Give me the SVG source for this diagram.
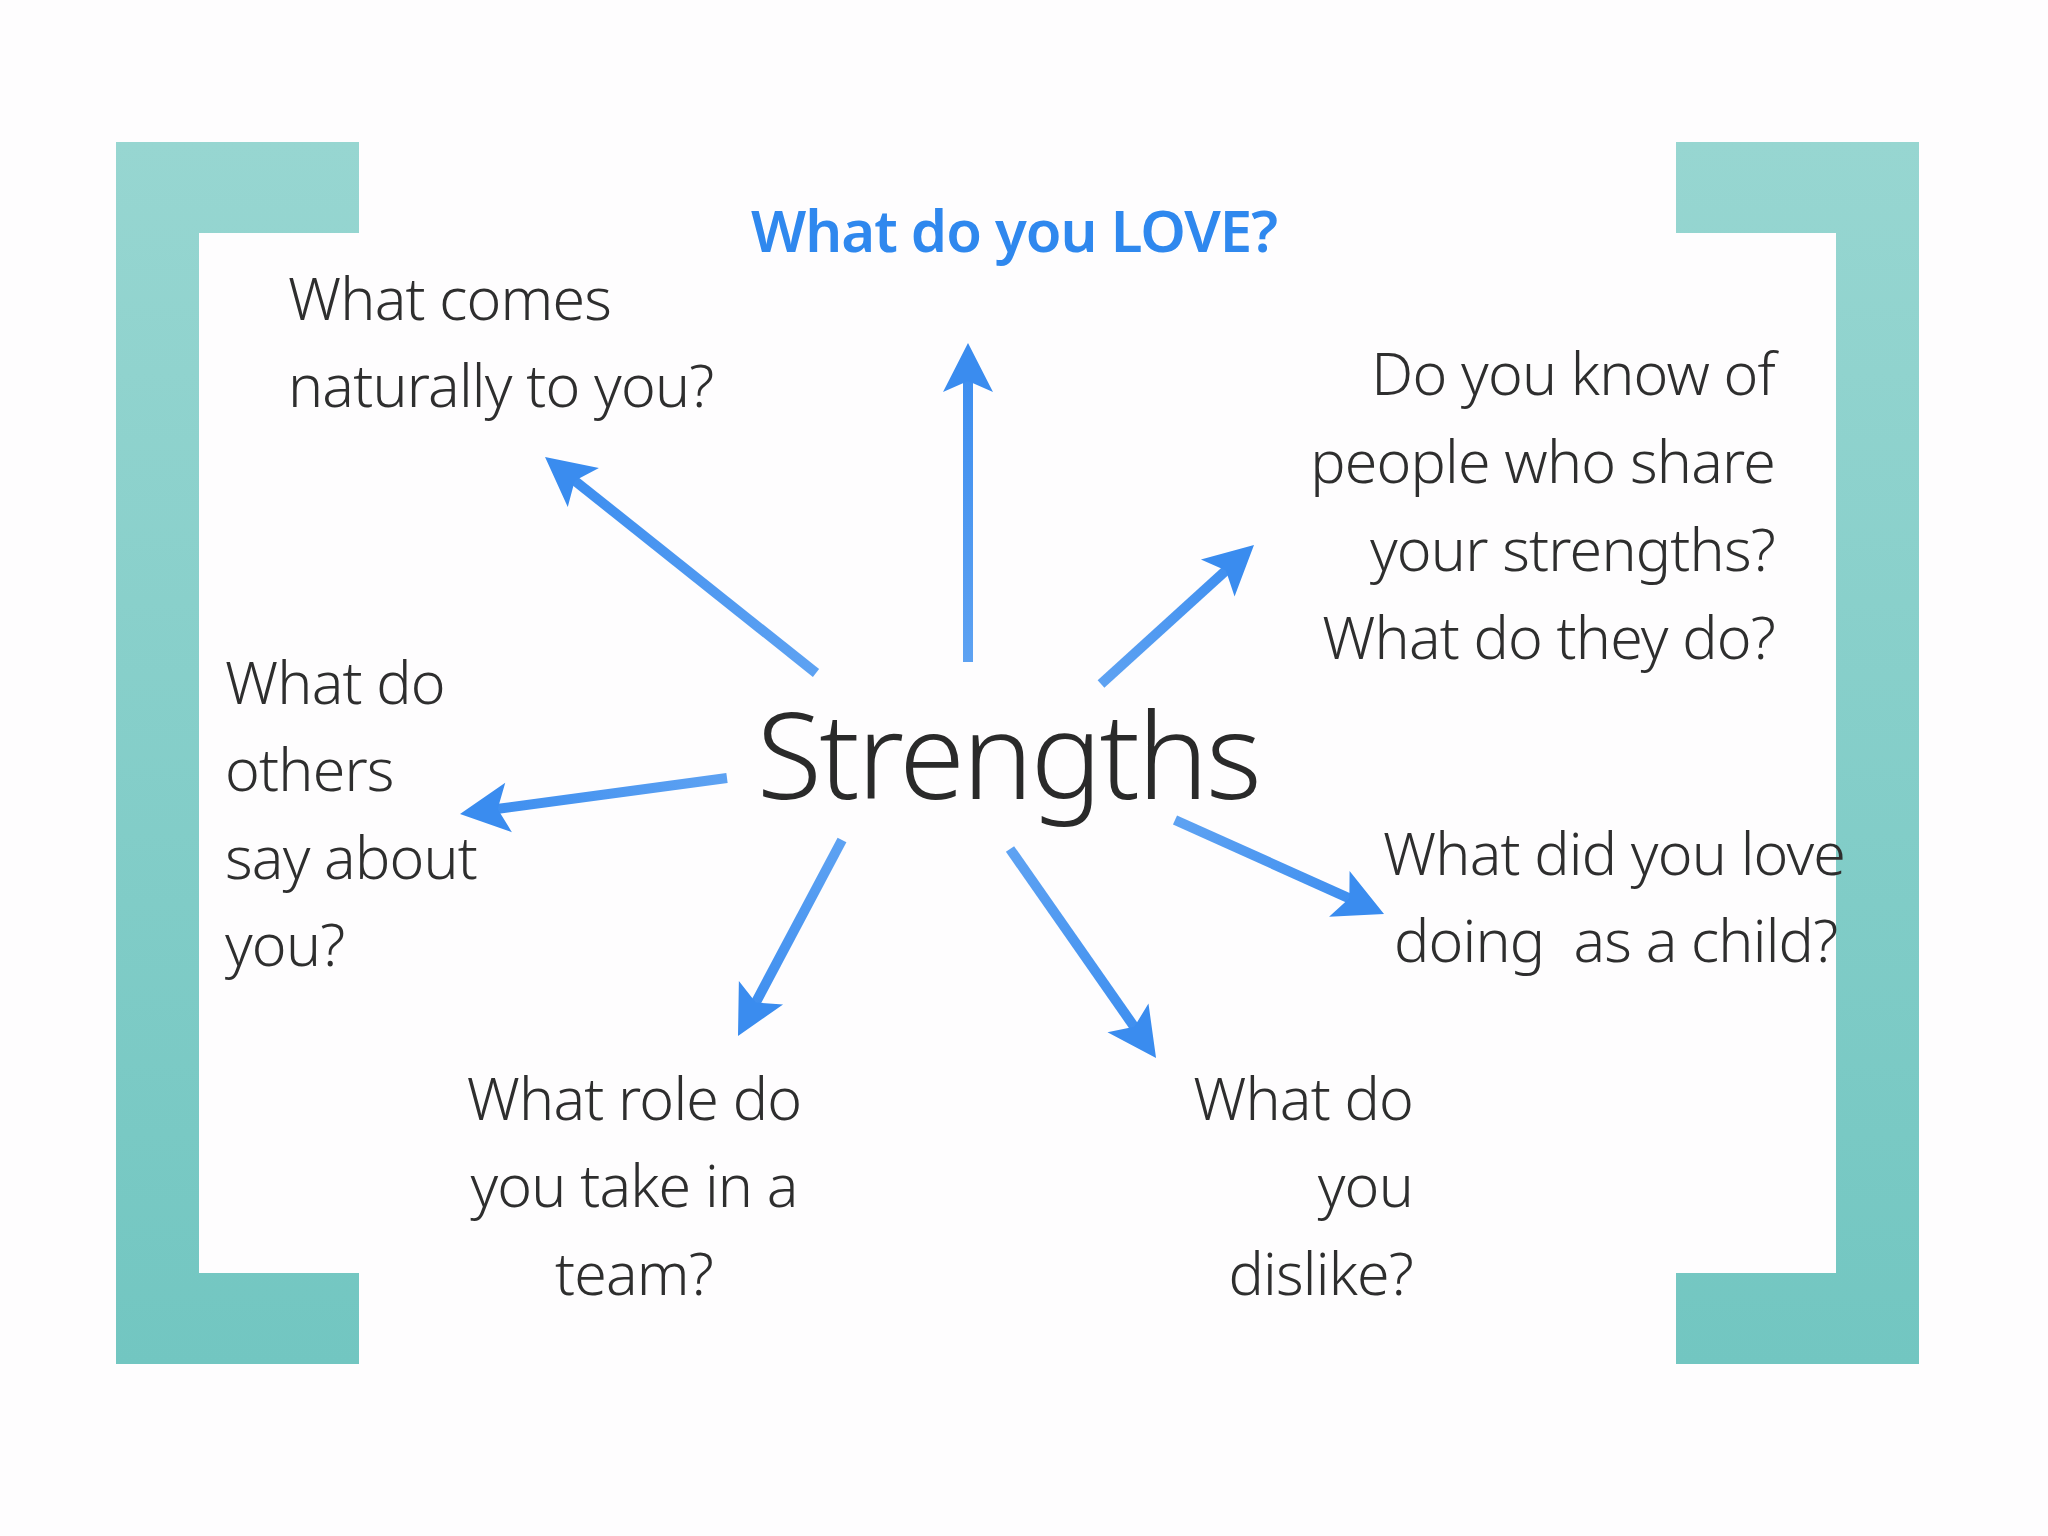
<svg xmlns="http://www.w3.org/2000/svg" width="2048" height="1536" viewBox="0 0 2048 1536">
<defs>
<linearGradient id="teal" x1="0" y1="142" x2="0" y2="1364" gradientUnits="userSpaceOnUse">
<stop offset="0" stop-color="#97d6d1"/>
<stop offset="1" stop-color="#72c6c1"/>
</linearGradient>
<linearGradient id="g1" gradientUnits="userSpaceOnUse" x1="968" y1="662" x2="968" y2="343"><stop offset="0" stop-color="#5ea2f2"/><stop offset="1" stop-color="#3a8cef"/></linearGradient>
<linearGradient id="g2" gradientUnits="userSpaceOnUse" x1="816" y1="673" x2="545" y2="457"><stop offset="0" stop-color="#5ea2f2"/><stop offset="1" stop-color="#3a8cef"/></linearGradient>
<linearGradient id="g3" gradientUnits="userSpaceOnUse" x1="1101" y1="684" x2="1254" y2="545"><stop offset="0" stop-color="#5ea2f2"/><stop offset="1" stop-color="#3a8cef"/></linearGradient>
<linearGradient id="g4" gradientUnits="userSpaceOnUse" x1="727" y1="778" x2="460" y2="814"><stop offset="0" stop-color="#5ea2f2"/><stop offset="1" stop-color="#3a8cef"/></linearGradient>
<linearGradient id="g5" gradientUnits="userSpaceOnUse" x1="842" y1="840" x2="738" y2="1036"><stop offset="0" stop-color="#5ea2f2"/><stop offset="1" stop-color="#3a8cef"/></linearGradient>
<linearGradient id="g6" gradientUnits="userSpaceOnUse" x1="1010" y1="849" x2="1156" y2="1058"><stop offset="0" stop-color="#5ea2f2"/><stop offset="1" stop-color="#3a8cef"/></linearGradient>
<linearGradient id="g7" gradientUnits="userSpaceOnUse" x1="1175" y1="820" x2="1384" y2="914"><stop offset="0" stop-color="#5ea2f2"/><stop offset="1" stop-color="#3a8cef"/></linearGradient>
<marker id="head" markerUnits="userSpaceOnUse" viewBox="-20 -30 60 60" refX="0" refY="0" markerWidth="60" markerHeight="60" orient="auto">
<path d="M35,0 L-14,-25 L-3,0 L-14,25 Z" fill="#3a8cef"/>
</marker>
<style>
.q{font-family:"Noto Sans","Open Sans",sans-serif;font-size:59px;fill:#2e2e2e;font-weight:300;letter-spacing:-0.8px}
.arr{stroke-width:10;fill:none;marker-end:url(#head)}
</style>
</defs>
<rect width="2048" height="1536" fill="#fefdfe"/>
<g id="bracket-left">
<path d="M116,142 H359 V233 H199 V1273 H359 V1364 H116 Z" fill="url(#teal)"/>
</g>
<g id="bracket-right">
<path d="M1919,142 H1676 V233 H1836 V1273 H1676 V1364 H1919 Z" fill="url(#teal)"/>
</g>
<g id="connectors">
<line class="arr" stroke="url(#g1)" x1="968" y1="662" x2="968" y2="378"/>
<line class="arr" stroke="url(#g2)" x1="816" y1="673" x2="572.4" y2="478.8"/>
<line class="arr" stroke="url(#g3)" x1="1101" y1="684" x2="1228.1" y2="568.5"/>
<line class="arr" stroke="url(#g4)" x1="727" y1="778" x2="494.7" y2="809.3"/>
<line class="arr" stroke="url(#g5)" x1="842" y1="840" x2="754.4" y2="1005.1"/>
<line class="arr" stroke="url(#g6)" x1="1010" y1="849" x2="1136" y2="1029.3"/>
<line class="arr" stroke="url(#g7)" x1="1175" y1="820" x2="1352.1" y2="899.6"/>
</g>
<g id="title">
<text x="1014" y="252" text-anchor="middle" font-family="Noto Sans, sans-serif" font-weight="600" font-size="58" letter-spacing="-1" fill="#2f88ee">What do you LOVE?</text>
</g>
<g id="center">
<text x="1008" y="799" text-anchor="middle" font-family="Noto Sans, sans-serif" font-weight="300" font-size="119" letter-spacing="-2.5" fill="#2a2a2a">Strengths</text>
</g>
<g id="q-natural">
<text class="q" x="288" y="320">What comes</text>
<text class="q" x="288" y="407">naturally to you?</text>
</g>
<g id="q-people">
<text class="q" x="1775" y="395" text-anchor="end">Do you know of</text>
<text class="q" x="1775" y="483" text-anchor="end">people who share</text>
<text class="q" x="1775" y="571" text-anchor="end">your strengths?</text>
<text class="q" x="1775" y="659" text-anchor="end">What do they do?</text>
</g>
<g id="q-others">
<text class="q" x="225" y="704">What do</text>
<text class="q" x="225" y="791">others</text>
<text class="q" x="225" y="879">say about</text>
<text class="q" x="225" y="966">you?</text>
</g>
<g id="q-child">
<text class="q" x="1383" y="875">What did you love</text>
<text class="q" x="1394" y="962" xml:space="preserve">doing  as a child?</text>
</g>
<g id="q-team">
<text class="q" x="634" y="1120" text-anchor="middle">What role do</text>
<text class="q" x="634" y="1207" text-anchor="middle">you take in a</text>
<text class="q" x="634" y="1295" text-anchor="middle">team?</text>
</g>
<g id="q-dislike">
<text class="q" x="1413" y="1120" text-anchor="end">What do</text>
<text class="q" x="1413" y="1207" text-anchor="end">you</text>
<text class="q" x="1413" y="1295" text-anchor="end">dislike?</text>
</g>
</svg>
